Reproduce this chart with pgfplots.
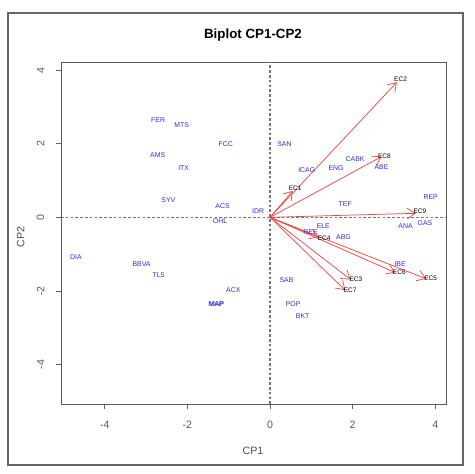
\documentclass[border=0pt]{standalone}
\usepackage{pgfplots}
\pgfplotsset{compat=1.18}
\usepackage{pgfplotstable}
\usepackage{fontspec}
\setmainfont{Liberation Sans}
\usetikzlibrary{arrows.meta}

\definecolor{ptblue}{RGB}{45,45,215}
\definecolor{arrred}{RGB}{240,70,70}

\pgfplotstableread{
x y label
-2.71 2.64 FER
-2.14 2.50 MTS
-1.07 1.98 FCC
-2.72 1.70 AMS
-2.09 1.35 ITX
-2.46 0.46 SYV
-1.15 0.30 ACS
-0.29 0.18 IDR
-1.21 -0.09 OHL
-4.70 -1.07 DIA
-3.11 -1.27 BBVA
-2.70 -1.58 TL5
-0.89 -1.98 ACX
-1.31 -2.36 MAP
-1.29 -2.37 MAP
0.35 1.99 SAN
0.89 1.27 ICAG
1.60 1.33 ENG
2.06 1.58 CABK
2.70 1.36 ABE
1.82 0.37 TEF
3.89 0.56 REP
3.75 -0.15 GAS
3.28 -0.25 ANA
1.29 -0.24 ELE
0.98 -0.40 REE
1.78 -0.55 ABG
3.15 -1.27 IBE
0.40 -1.70 SAB
0.56 -2.37 POP
0.79 -2.67 BKT
}\pts

\pgfplotstableread{
x y label
3.16 3.75 EC2
2.77 1.67 EC8
0.61 0.80 EC1
3.63 0.17 EC9
1.31 -0.56 EC4
3.13 -1.49 EC6
3.89 -1.66 EC5
2.08 -1.69 EC3
1.94 -1.98 EC7
}\ecs

\begin{document}
\begin{tikzpicture}
\begin{axis}[
  at={(0,0)}, anchor=south west,
  scale only axis, width=288.75pt, height=256.5pt,
  xmin=-5.06, xmax=4.26, ymin=-5.07, ymax=4.22,
  axis line style={draw=black!65, line width=0.6pt},
  xtick={-4,-2,0,2,4}, xticklabels={-4,-2,0,2,4},
  ytick={-4,-2,0,2,4}, yticklabels={-4,-2,0,2,4},
  xtick pos=bottom, ytick pos=left,
  tick align=outside, major tick length=4pt,
  tick style={black!60, line width=0.6pt},
  ticklabel style={font=\fontsize{8}{9}\selectfont, text=black!65},
  xticklabel shift=5pt,
  yticklabel style={rotate=90, anchor=south},
  yticklabel shift=5pt,
  clip=false,
  nodes near coords style={anchor=center, inner sep=0pt},
]
\addplot[black!55, line width=0.8pt, dash pattern=on 2pt off 1.6pt] coordinates {(0,-5.07) (0,4.22)};
\addplot[black!55, line width=0.8pt, dash pattern=on 2pt off 1.6pt] coordinates {(-5.06,0) (4.26,0)};

\addplot[only marks, mark=*, mark size=0pt, mark options={draw=none, fill=none},
  nodes near coords, point meta=explicit symbolic,
  nodes near coords style={font=\fontsize{5.2}{6}\selectfont, text=ptblue}]
  table[x=x, y=y, meta=label]{\pts};

\pgfplotsset{arr/.style={arrred, line width=0.55pt, -{Straight Barb[length=6pt, width=8pt]}}}
\addplot[arr] coordinates {(0,0) (3.07,3.67)};
\addplot[arr] coordinates {(0,0) (2.70,1.65)};
\addplot[arr] coordinates {(0,0) (0.55,0.72)};
\addplot[arr] coordinates {(0,0) (3.53,0.11)};
\addplot[arr] coordinates {(0,0) (1.17,-0.54)};
\addplot[arr] coordinates {(0,0) (3.03,-1.50)};
\addplot[arr] coordinates {(0,0) (3.78,-1.67)};
\addplot[arr] coordinates {(0,0) (1.95,-1.69)};
\addplot[arr] coordinates {(0,0) (1.82,-1.98)};

\addplot[only marks, mark=*, mark size=0pt, mark options={draw=none, fill=none},
  nodes near coords, point meta=explicit symbolic,
  nodes near coords style={font=\fontsize{4.9}{6}\selectfont, text=black}]
  table[x=x, y=y, meta=label]{\ecs};
\end{axis}

\node[font=\bfseries\fontsize{10}{12}\selectfont] at (144pt,276.75pt) {Biplot CP1-CP2};
\node[font=\fontsize{8}{9}\selectfont, text=black!70] at (144pt,-35.25pt) {CP1};
\node[font=\fontsize{8}{9}\selectfont, text=black!70, rotate=90] at (-30.2pt,125.25pt) {CP2};
\draw[black!60, line width=1pt] (-39.75pt,-45.75pt) rectangle (301.5pt,293.25pt);
\pgfresetboundingbox
\useasboundingbox (-45.75pt,-52.5pt) rectangle (309.75pt,303pt);
\end{tikzpicture}
\end{document}
